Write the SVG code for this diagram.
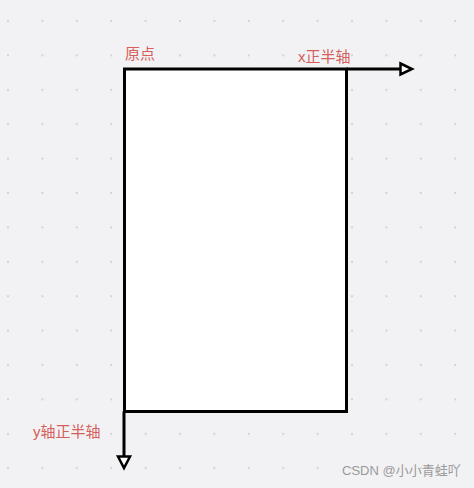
<svg xmlns="http://www.w3.org/2000/svg" width="474" height="488" viewBox="0 0 474 488">
<style>
.lbl{font-family:"Liberation Sans","Noto Sans CJK SC",sans-serif;font-size:15px;fill:#d65f5c}
.wm{font-family:"Liberation Sans","Noto Sans CJK SC",sans-serif;font-size:13px;fill:#9a9a9a}
.ax{stroke:#000;stroke-width:3;fill:none}
</style>
<defs>
<pattern id="dots" x="8" y="21" width="34.4" height="34.4" patternUnits="userSpaceOnUse">
<circle cx="0" cy="0" r="1" fill="#c8c8cc"/>
<circle cx="34.4" cy="0" r="1" fill="#c8c8cc"/>
<circle cx="0" cy="34.4" r="1" fill="#c8c8cc"/>
<circle cx="34.4" cy="34.4" r="1" fill="#c8c8cc"/>
</pattern>
</defs>
<rect width="474" height="488" fill="#f2f2f4"/>
<rect x="0" y="0" width="472" height="480" fill="url(#dots)"/>
<g id="rect-node">
<rect x="124.5" y="69" width="222" height="342.5" fill="#fff" stroke="#000" stroke-width="3"/>
</g>
<g id="connectors">
<path class="ax" d="M346.5 69 H401"/>
<path d="M400.5 63.5 L412 69 L400.5 74.5 Z" fill="#fff" stroke="#000" stroke-width="2.5" stroke-linejoin="miter"/>
<path class="ax" d="M124 411.5 V456.5"/>
<path d="M118 456.5 L124 468 L130 456.5 Z" fill="#fff" stroke="#000" stroke-width="2.5"/>
</g>
<g id="label-origin"><text class="lbl" x="125" y="59">原点</text></g>
<g id="label-x"><text class="lbl" x="298" y="62">x正半轴</text></g>
<g id="label-y"><text class="lbl" x="33" y="437">y轴正半轴</text></g>
<g id="watermark"><text class="wm" x="342" y="475">CSDN @小小青蛙吖</text></g>
</svg>
